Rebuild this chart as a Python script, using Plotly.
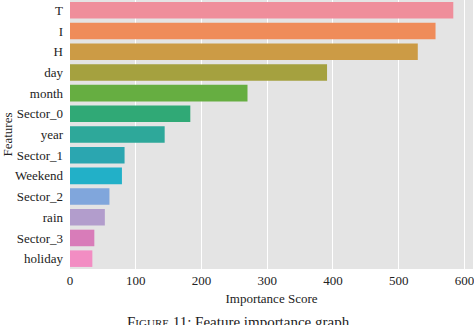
import plotly.graph_objects as go

# Feature importance scores (top to bottom)
features = ["T", "I", "H", "day", "month", "Sector_0", "year", "Sector_1",
            "Weekend", "Sector_2", "rain", "Sector_3", "holiday"]
scores = [583, 556, 529, 391, 270, 183, 144, 83, 79, 60, 53, 37, 34]
colors = ["#ef8e9b", "#ef8c5a", "#cc9b45", "#a5a13f", "#66ae41", "#30a976",
          "#2ea89a", "#2ba6b0", "#22b0c8", "#80a6dc", "#b29dcc", "#d87cb9",
          "#f28dc3"]

serif = "Liberation Serif"

fig = go.Figure(
    go.Bar(
        x=scores,
        y=features,
        orientation="h",
        marker=dict(color=colors, line=dict(width=0)),
        width=0.8,
    )
)

fig.update_layout(
    width=474,
    height=325,
    margin=dict(l=67, r=0, t=0, b=56),
    paper_bgcolor="white",
    plot_bgcolor="#e4e4e4",
    showlegend=False,
    font=dict(family=serif, size=13, color="#222222"),
    xaxis=dict(
        range=[0, 613],
        tickvals=[0, 100, 200, 300, 400, 500, 600],
        showgrid=True,
        gridcolor="white",
        gridwidth=1.2,
        zeroline=False,
        ticks="",
        ticklabelstandoff=2,
        ticklabeloverflow="allow",
        title=dict(text="Importance Score", font=dict(family=serif, size=13),
                   standoff=6),
    ),
    yaxis=dict(
        categoryorder="array",
        categoryarray=features[::-1],
        range=[-0.5, 12.5],
        showgrid=False,
        zeroline=False,
        ticks="",
        ticklabelstandoff=6,
        title=dict(text="Features", font=dict(family=serif, size=13),
                   standoff=6),
    ),
    annotations=[
        dict(
            text="F<span style='font-size:11px'>IGURE</span> 11: Feature importance graph",
            xref="paper", yref="paper",
            x=0.5, y=-0.16,
            xanchor="center", yanchor="top",
            xshift=-33,
            showarrow=False,
            font=dict(family=serif, size=15, color="#222222"),
        )
    ],
)

fig.write_html("out.html")
